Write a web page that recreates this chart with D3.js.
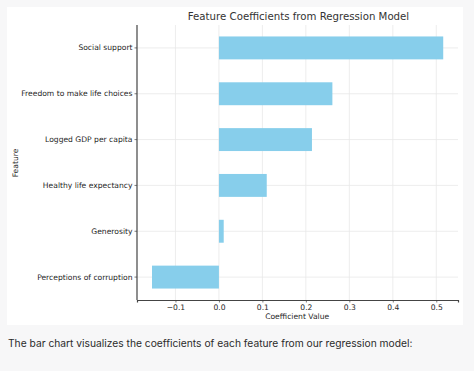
<!DOCTYPE html>
<html>
<head>
<meta charset="utf-8">
<script src="https://cdn.jsdelivr.net/npm/d3@7"></script>
<style>
  html, body { margin: 0; padding: 0; background: #f7f7f8; }
  svg { display: block; }
</style>
</head>
<body>
<svg id="chart" width="474" height="371"></svg>
<script>
const features = [
  "Social support",
  "Freedom to make life choices",
  "Logged GDP per capita",
  "Healthy life expectancy",
  "Generosity",
  "Perceptions of corruption"
]
const coefficients = [0.516, 0.261, 0.214, 0.110, 0.011, -0.154]
const xTicks = [-0.1, 0.0, 0.1, 0.2, 0.3, 0.4, 0.5]

const data = features.map((f, i) => ({feature: f, value: coefficients[i]}))

const svg = d3.select("#chart")

// card behind the figure
svg.append("rect")
    .attr("x", 7).attr("y", 7)
    .attr("width", 456).attr("height", 318)
    .attr("fill", "#ffffff")

const margin = {top: 25, right: 16, bottom: 71, left: 137}
const width = 474 - margin.left - margin.right
const height = 371 - margin.top - margin.bottom

const x = d3.scaleLinear()
    .domain([-0.1885, 0.55])
    .range([0, width])

const y = d3.scaleBand()
    .domain(features)
    .range([0, height])
    .padding(0.5)
    .paddingOuter(0.25)

const g = svg.append("g")
    .attr("transform", `translate(${margin.left},${margin.top})`)

// grid
g.append("g")
    .selectAll("line.vgrid")
    .data(xTicks)
    .join("line")
      .attr("class", "vgrid")
      .attr("x1", d => x(d)).attr("x2", d => x(d))
      .attr("y1", 0).attr("y2", height)
      .attr("stroke", "#e8e8e8")
      .attr("stroke-width", 0.8)
g.append("g")
    .selectAll("line.hgrid")
    .data(features)
    .join("line")
      .attr("class", "hgrid")
      .attr("x1", 0).attr("x2", width)
      .attr("y1", d => y(d) + y.bandwidth() / 2)
      .attr("y2", d => y(d) + y.bandwidth() / 2)
      .attr("stroke", "#e8e8e8")
      .attr("stroke-width", 0.8)

// bars
g.selectAll("rect.bar")
    .data(data)
    .join("rect")
      .attr("class", "bar")
      .attr("x", d => x(Math.min(0, d.value)))
      .attr("width", d => Math.abs(x(d.value) - x(0)))
      .attr("y", d => y(d.feature))
      .attr("height", y.bandwidth())
      .attr("fill", "#87ceeb")

// axes
const font = "'DejaVu Sans', sans-serif"
const xAxis = g.append("g")
    .attr("transform", `translate(0,${height})`)
    .call(d3.axisBottom(x).tickValues(xTicks)
      .tickFormat(d => d3.format(".1f")(d).replace("-", "\u2212"))
      .tickSize(2.5).tickPadding(2))
xAxis.select(".domain").attr("stroke", "#444").attr("stroke-width", 1.2)
xAxis.selectAll(".tick line").attr("stroke", "#444").attr("stroke-width", 0.7)
xAxis.selectAll("text")
    .attr("font-family", font).attr("font-size", 7.6).attr("fill", "#262626")

const yAxis = g.append("g")
    .call(d3.axisLeft(y).tickSize(2.5).tickPadding(2).tickSizeOuter(0))
yAxis.select(".domain").attr("stroke", "#444").attr("stroke-width", 1.2)
    .attr("d", `M0,0V${height}`)
yAxis.selectAll(".tick line").attr("stroke", "#444").attr("stroke-width", 0.7)
yAxis.selectAll("text")
    .attr("font-family", font).attr("font-size", 7.6).attr("fill", "#262626")

// labels
svg.append("text")
    .attr("x", margin.left + width / 2 + 1)
    .attr("y", 20)
    .attr("text-anchor", "middle")
    .attr("font-family", font)
    .attr("font-size", 10.2)
    .attr("fill", "#333")
    .text("Feature Coefficients from Regression Model")

svg.append("text")
    .attr("x", margin.left + x(0.18))
    .attr("y", 319)
    .attr("text-anchor", "middle")
    .attr("font-family", font)
    .attr("font-size", 7.6)
    .attr("fill", "#262626")
    .text("Coefficient Value")

svg.append("text")
    .attr("transform", "translate(18,163) rotate(-90)")
    .attr("text-anchor", "middle")
    .attr("font-family", font)
    .attr("font-size", 7.6)
    .attr("fill", "#262626")
    .text("Feature")

svg.append("text")
    .attr("x", 8)
    .attr("y", 347)
    .attr("font-family", "Inter, 'Noto Sans', sans-serif")
    .attr("font-size", 10.25)
    .attr("fill", "#2b2b2b")
    .text("The bar chart visualizes the coefficients of each feature from our regression model:")
</script>
</body>
</html>
